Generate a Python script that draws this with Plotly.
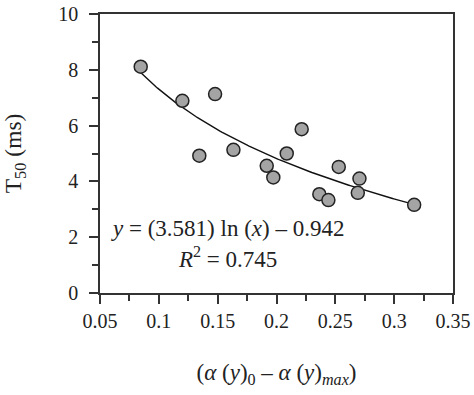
import numpy as np
import plotly.graph_objects as go

# Data
x_vals = [0.0846, 0.120, 0.1478, 0.1344, 0.1634, 0.1917, 0.1973, 0.2087,
          0.2214, 0.2364, 0.2441, 0.2529, 0.2705, 0.2691, 0.317]
t50_vals = [8.11, 6.89, 7.13, 4.92, 5.13, 4.56, 4.14, 5.00,
            5.87, 3.54, 3.33, 4.52, 4.10, 3.59, 3.16]

# Logarithmic fit (coefficients from the chart label; curve decreases)
fit_slope = -3.581
fit_intercept = -0.942
fit_range = [0.085, 0.316]

x_ticks = [0.05, 0.1, 0.15, 0.2, 0.25, 0.3, 0.35]
x_tick_labels = ["0.05", "0.1", "0.15", "0.2", "0.25", "0.3", "0.35"]
y_ticks = [0, 2, 4, 6, 8, 10]

xf = np.linspace(fit_range[0], fit_range[1], 200)
yf = fit_slope * np.log(xf) + fit_intercept

FONT = "Liberation Serif"
AX = "#333333"
TXT = "#222222"

fig = go.Figure()
fig.add_trace(go.Scatter(x=xf, y=yf, mode="lines",
                         line=dict(color="#111111", width=1.4),
                         showlegend=False, hoverinfo="skip"))
fig.add_trace(go.Scatter(x=x_vals, y=t50_vals, mode="markers",
                         marker=dict(size=13, color="#a4a4a4",
                                     line=dict(color="#222222", width=1.5)),
                         showlegend=False))

fig.add_annotation(x=0.158, y=2.32, xref="x", yref="y", showarrow=False,
                   text="<i>y</i> = (3.581) ln (<i>x</i>) – 0.942",
                   font=dict(family=FONT, size=23, color=TXT))
fig.add_annotation(x=0.158, y=1.28, xref="x", yref="y", showarrow=False,
                   text="<i>R</i><sup>2</sup> = 0.745",
                   font=dict(family=FONT, size=23, color=TXT))

axis_common = dict(showline=True, linecolor=AX, linewidth=1.5, mirror=True,
                   ticks="outside", ticklen=9, tickwidth=1.5, tickcolor=AX,
                   showgrid=False, zeroline=False, ticklabeloverflow="allow",
                   tickfont=dict(family=FONT, size=20, color=TXT))

fig.update_xaxes(range=[0.05, 0.35], tickvals=x_ticks, ticktext=x_tick_labels,
                 minor=dict(dtick=0.025, tick0=0.05, ticks="outside", ticklen=6,
                            tickwidth=1.5, tickcolor=AX, showgrid=False),
                 title=dict(text="(<i>α</i> (<i>y</i>)<sub>0</sub> – <i>α</i> (<i>y</i>)<sub><i>max</i></sub>)",
                            font=dict(family=FONT, size=23, color=TXT),
                            standoff=33),
                 **axis_common)
fig.update_yaxes(range=[0, 10], tickvals=y_ticks,
                 minor=dict(dtick=1, tick0=0, ticks="outside", ticklen=6,
                            tickwidth=1.5, tickcolor=AX, showgrid=False),
                 ticklabelstandoff=7,
                 title=dict(text="T<sub>50</sub> (ms)",
                            font=dict(family=FONT, size=23.5, color=TXT),
                            standoff=45),
                 **axis_common)

fig.update_layout(width=474, height=395,
                  margin=dict(l=100, r=21, t=14, b=102, autoexpand=False),
                  plot_bgcolor="white", paper_bgcolor="white")

# remove the page's default 8px body margin so the figure sits at the corner
fig.write_html("out.html", config={"displayModeBar": False},
               post_script="document.body.style.margin='0px';document.body.style.overflow='hidden';")
